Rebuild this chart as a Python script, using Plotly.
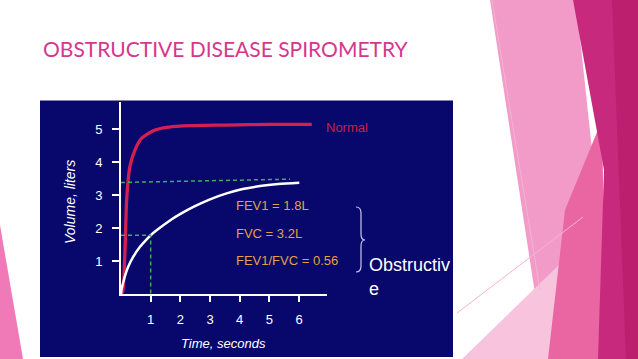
import plotly.graph_objects as go

W, H = 638, 359

# ---------------- data ----------------
normal_t = [0.0, 0.057, 0.135, 0.19, 0.30, 0.47, 0.70, 1.09, 1.54, 1.99, 2.8, 3.56, 5.02, 6.43]
normal_v = [0.0, 0.07, 1.33, 2.85, 3.86, 4.36, 4.72, 4.95, 5.05, 5.09, 5.11, 5.12, 5.14, 5.14]

obstr_t = [0.0, 0.02, 0.06, 0.135, 0.246, 0.415, 0.64, 0.87, 1.0, 1.2, 1.65, 1.99, 2.44, 3.0, 3.56, 4.1, 4.68, 5.3, 6.01]
obstr_v = [0.0, 0.15, 0.30, 0.55, 0.83, 1.13, 1.43, 1.66, 1.78, 1.93, 2.23, 2.42, 2.64, 2.87, 3.05, 3.18, 3.27, 3.33, 3.37]

fev1_t = 1.0
fev1_v = 1.78
fvc_line_t = [0.0, 5.7]
fvc_line_v = [3.38, 3.48]

x_ticks = [1, 2, 3, 4, 5, 6]
y_ticks = [1, 2, 3, 4, 5]

title_text = "OBSTRUCTIVE DISEASE SPIROMETRY"
stats_text = ["FEV1 = 1.8L", "FVC = 3.2L", "FEV1/FVC = 0.56"]

# ---------------- helpers (pixel -> paper) ----------------
def px(x):
    return x / W

def py(y):
    return 1 - y / H

def poly(points):
    s = "M " + " L ".join(f"{px(x):.5f},{py(y):.5f}" for x, y in points) + " Z"
    return s

NAVY = "#07076c"
RED = "#d41f52"
GREEN = "#3fae5a"
GOLD = "#e2a23e"
FONT = "Liberation Sans"

fig = go.Figure()

fig.add_trace(go.Scatter(x=normal_t, y=normal_v, mode="lines",
                         line=dict(color=RED, width=3.3, shape="spline", smoothing=0.6),
                         hoverinfo="skip", showlegend=False))
fig.add_trace(go.Scatter(x=obstr_t, y=obstr_v, mode="lines",
                         line=dict(color="white", width=2.5, shape="spline", smoothing=0.8),
                         hoverinfo="skip", showlegend=False))
# FVC dashed guide
fig.add_trace(go.Scatter(x=fvc_line_t, y=fvc_line_v, mode="lines",
                         line=dict(color=GREEN, width=1.5, dash="4px,3px"),
                         hoverinfo="skip", showlegend=False))
# FEV1 dashed guides
fig.add_trace(go.Scatter(x=[0, fev1_t, fev1_t], y=[fev1_v, fev1_v, 0], mode="lines",
                         line=dict(color=GREEN, width=1.5, dash="4px,3px"),
                         hoverinfo="skip", showlegend=False))

# plot area geometry (pixels)
x0p, x1p = 121, 327
y0p, y1p = 294, 102
xs = 29.67
ys = 33.0

shapes = []
# navy panel
shapes.append(dict(type="rect", xref="paper", yref="paper",
                   x0=px(40), x1=px(453), y0=py(357), y1=py(100.5),
                   fillcolor=NAVY, line=dict(width=0), layer="below"))
# decorative pink polygons (right)
deco = [
    ([(490, 0), (576, 0), (592, 150), (588, 359), (545, 359)], "#f29bc8"),
    ([(462, 359), (600, 225), (600, 359)], "#f7c3dd"),
    ([(565, 210), (602, 120), (606, 359), (548, 359)], "#ea66a3"),
    ([(573, 0), (638, 0), (638, 359), (598, 359), (604, 170)], "#c72a7c"),
    ([(612, 0), (638, 0), (638, 359), (626, 359)], "#bb1f6e"),
    ([(0, 225), (0, 359), (23, 359)], "#f07ab8"),
]
for pts, col in deco:
    shapes.append(dict(type="path", xref="paper", yref="paper", path=poly(pts),
                       fillcolor=col, line=dict(width=0), layer="below"))
# thin decorative lines
shapes.append(dict(type="line", xref="paper", yref="paper", x0=px(492), y0=py(0),
                   x1=px(540), y1=py(290), line=dict(color="#f3b3d2", width=1)))
shapes.append(dict(type="line", xref="paper", yref="paper", x0=px(457), y0=py(313),
                   x1=px(583), y1=py(217), line=dict(color="#f3b3d2", width=1)))
# brace
bx = [(356, 207), (361, 207), (361, 213), (361, 234), (361, 240), (365, 240),
      (361, 240), (361, 246), (361, 266), (361, 272), (356, 272)]
P = lambda i: f"{px(bx[i][0]):.5f},{py(bx[i][1]):.5f}"
brace_path = (f"M {P(0)} Q {P(1)} {P(2)} L {P(3)} Q {P(4)} {P(5)} "
              f"Q {P(6)} {P(7)} L {P(8)} Q {P(9)} {P(10)}")
shapes.append(dict(type="path", xref="paper", yref="paper", path=brace_path,
                   line=dict(color="#c9c9ee", width=1.2)))

annotations = []
annotations.append(dict(text=title_text, xref="paper", yref="paper", x=px(41), y=py(49),
                        xanchor="left", yanchor="middle", showarrow=False,
                        font=dict(family="Lato", size=21, color="#d6378e")))
annotations.append(dict(text="Normal", xref="paper", yref="paper", x=px(324), y=py(127),
                        xanchor="left", yanchor="middle", showarrow=False,
                        font=dict(family=FONT, size=13, color="#cc1f45")))
for txt, yy in zip(stats_text, [205, 233, 260]):
    annotations.append(dict(text=txt, xref="paper", yref="paper", x=px(234), y=py(yy),
                            xanchor="left", yanchor="middle", showarrow=False,
                            font=dict(family=FONT, size=13, color=GOLD)))
annotations.append(dict(text="Obstructiv", xref="paper", yref="paper", x=px(367), y=py(265),
                        xanchor="left", yanchor="middle", showarrow=False,
                        font=dict(family=FONT, size=18, color="white")))
annotations.append(dict(text="e", xref="paper", yref="paper", x=px(367), y=py(289),
                        xanchor="left", yanchor="middle", showarrow=False,
                        font=dict(family=FONT, size=18, color="white")))
annotations.append(dict(text="<i>Time, seconds</i>", xref="paper", yref="paper", x=px(223), y=py(343),
                        xanchor="center", yanchor="middle", showarrow=False,
                        font=dict(family=FONT, size=13, color="white")))
annotations.append(dict(text="<i>Volume, liters</i>", xref="paper", yref="paper", x=px(70), y=py(202),
                        xanchor="center", yanchor="middle", showarrow=False, textangle=-90,
                        font=dict(family=FONT, size=14, color="white")))

fig.update_layout(
    width=W, height=H,
    margin=dict(l=0, r=0, t=0, b=0),
    paper_bgcolor="white",
    plot_bgcolor="rgba(0,0,0,0)",
    shapes=shapes,
    annotations=annotations,
    xaxis=dict(domain=[px(x0p), px(x1p)], range=[0, (x1p - x0p) / xs],
               showgrid=False, zeroline=False, showline=True, linecolor="white", linewidth=2,
               ticks="outside", ticklen=6, tickwidth=2, tickcolor="white",
               tickvals=x_ticks, ticktext=[str(v) for v in x_ticks],
               ticklabelstandoff=6,
               tickfont=dict(family=FONT, size=13, color="white")),
    yaxis=dict(domain=[py(y0p), py(y1p)], range=[0, (y0p - y1p) / ys],
               showgrid=False, zeroline=False, showline=True, linecolor="white", linewidth=2,
               ticks="outside", ticklen=7, tickwidth=2, tickcolor="white",
               tickvals=y_ticks, ticktext=[str(v) for v in y_ticks],
               ticklabelstandoff=7,
               tickfont=dict(family=FONT, size=13, color="white")),
)

fig.write_html("out.html", config={"displayModeBar": False},
               post_script="document.body.style.margin='0';")
